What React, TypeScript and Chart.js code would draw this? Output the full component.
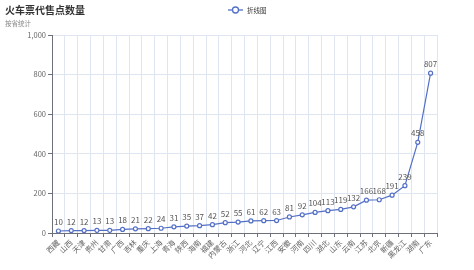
import React, { useEffect, useRef } from "react";
import { Chart, registerables } from "chart.js";

Chart.register(...registerables);

const titleText = "火车票代售点数量";
const subtitleText = "按省统计";
const seriesName = "折线图";

const provinces = [
  "西藏", "山西", "天津", "贵州", "甘肃", "广西", "吉林", "重庆", "上海", "青海",
  "陕西", "海南", "福建", "内蒙古", "浙江", "河北", "辽宁", "江西", "安徽", "河南",
  "四川", "湖北", "山东", "云南", "江苏", "北京", "新疆", "黑龙江", "湖南", "广东",
];

const counts = [
  10, 12, 12, 13, 13, 18, 21, 22, 24, 31,
  35, 37, 42, 52, 55, 61, 62, 63, 81, 92,
  104, 113, 119, 132, 166, 168, 191, 239, 458, 807,
];

const yTicks = [0, 200, 400, 600, 800, 1000];

const LINE = "#5470c6";
const FONT = "'Noto Sans CJK SC', 'Noto Sans', sans-serif";

export default function App() {
  const ref = useRef<HTMLCanvasElement | null>(null);

  useEffect(() => {
    document.body.style.margin = "0";
    const canvas = ref.current!;
    const decor = {
      id: "decor",
      afterDraw(chart: any) {
        const ctx = chart.ctx;
        ctx.save();
        // title
        ctx.fillStyle = "#333";
        ctx.font = `bold 10px ${FONT}`;
        ctx.textBaseline = "alphabetic";
        ctx.textAlign = "left";
        ctx.fillText(titleText, 5, 14);
        ctx.fillStyle = "#888";
        ctx.font = `6.5px ${FONT}`;
        ctx.fillText(subtitleText, 5, 26);
        // legend
        const ly = 10;
        ctx.strokeStyle = LINE;
        ctx.lineWidth = 1.3;
        ctx.beginPath();
        ctx.moveTo(228, ly);
        ctx.lineTo(243, ly);
        ctx.stroke();
        ctx.beginPath();
        ctx.arc(235.5, ly, 3, 0, Math.PI * 2);
        ctx.fillStyle = "#fff";
        ctx.fill();
        ctx.stroke();
        ctx.fillStyle = "#333";
        ctx.font = `6.5px ${FONT}`;
        ctx.textBaseline = "middle";
        ctx.fillText(seriesName, 247, ly + 0.5);
        // data labels
        const meta = chart.getDatasetMeta(0);
        ctx.fillStyle = "#555";
        ctx.font = `8px ${FONT}`;
        ctx.textAlign = "center";
        ctx.textBaseline = "alphabetic";
        meta.data.forEach((pt: any, i: number) => {
          ctx.fillText(String(counts[i]), pt.x, pt.y - 6);
        });
        ctx.restore();
      },
    };

    const chart = new Chart(canvas, {
      type: "line",
      data: {
        labels: provinces,
        datasets: [
          {
            label: seriesName,
            data: counts,
            borderColor: LINE,
            backgroundColor: "#fff",
            borderWidth: 1.2,
            pointRadius: 2,
            pointBorderWidth: 1.2,
            pointBackgroundColor: "#fff",
            pointBorderColor: LINE,
            tension: 0,
          },
        ],
      },
      options: {
        animation: false,
        responsive: false,
        maintainAspectRatio: false,
        layout: { padding: { top: 35, right: 37, left: 0, bottom: 0 } },
        plugins: {
          legend: { display: false },
          title: { display: false },
          tooltip: { enabled: false },
        },
        scales: {
          x: {
            offset: true,
            grid: { offset: true, color: "#e0e6f1", drawTicks: true, tickLength: 4, tickColor: "#6e7079" },
            border: { color: "#6e7079" },
            ticks: {
              autoSkip: false,
              maxRotation: 45,
              minRotation: 45,
              font: { size: 7.5, family: FONT },
              color: "#666",
              padding: 1,
            },
            afterFit: (s: any) => {
              s.height = 37;
            },
          },
          y: {
            min: 0,
            max: 1000,
            afterBuildTicks: (s: any) => {
              s.ticks = yTicks.map((v) => ({ value: v }));
            },
            grid: { color: "#e0e6f1", tickLength: 4, tickColor: "#6e7079" },
            border: { color: "#6e7079" },
            ticks: {
              font: { size: 7.5, family: FONT },
              color: "#666",
              padding: 2,
              callback: (v: any) => Number(v).toLocaleString("en-US"),
            },
            afterFit: (s: any) => {
              s.width = 52;
            },
          },
        },
      },
      plugins: [decor],
    });
    return () => chart.destroy();
  }, []);

  return (
    <div style={{ position: "fixed", left: 0, top: 0, width: 474, height: 270, background: "#fff" }}>
      <canvas ref={ref} width={474} height={270} style={{ width: 474, height: 270, display: "block" }} />
    </div>
  );
}
